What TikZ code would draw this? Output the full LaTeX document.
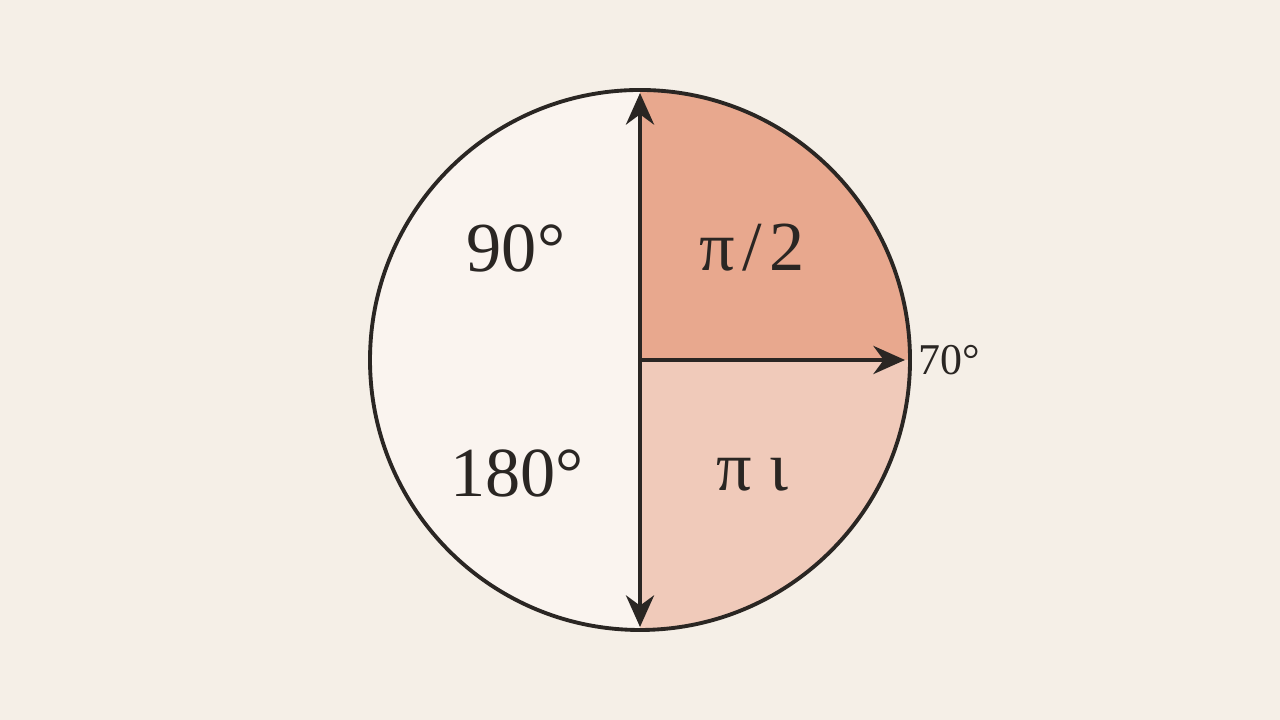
\documentclass[tikz,border=0pt]{standalone}
\usepackage{fontspec}
\setmainfont{Liberation Serif}
\usepackage{tikz}
\usetikzlibrary{calc,positioning,arrows.meta}
\definecolor{bgcol}{HTML}{F5EFE7}
\definecolor{leftcol}{HTML}{FAF4EF}
\definecolor{upcol}{HTML}{E8A88E}
\definecolor{lowcol}{HTML}{F0CABA}
\definecolor{inkcol}{HTML}{2A2623}
\begin{document}
\begin{tikzpicture}[line width=1.1pt,draw=inkcol,
  big/.style={font=\fontsize{20}{24}\selectfont,text=inkcol},
  tip/.style={-{Stealth[length=9pt,width=8pt]}},
  twotip/.style={{Stealth[length=9pt,width=8pt]}-{Stealth[length=9pt,width=8pt]}}]
\fill[bgcol] (0,0) rectangle (12.8,7.2);
\useasboundingbox (0,0) rectangle (12.8,7.2);
\coordinate (O) at (6.4,3.6);
\coordinate (T) at ($(O)+(0,2.7)$);
\coordinate (B) at ($(O)+(0,-2.7)$);
\coordinate (R) at ($(O)+(2.7,0)$);

\fill[leftcol] (T) arc (90:270:2.7) -- cycle;
\fill[upcol] (O) -- (R) arc (0:90:2.7) -- cycle;
\fill[lowcol] (O) -- (B) arc (270:360:2.7) -- cycle;
\draw[inkcol] (O) circle (2.7);

\draw[inkcol,twotip] ($(T)+(0,-0.03)$)--($(B)+(0,0.03)$);
\draw[inkcol,tip] (O)--($(R)+(-0.05,0)$);

\node (A) [big] at (5.16,4.72) {90°};
\node (C) [big] at (5.17,2.47) {180°};
\node (D) [big] at (7.52,4.72) {π\kern2pt/\kern2pt2};
\node (E) [big] at (7.52,2.45) {π ι};
\node (F) [right=1pt of R,font=\fontsize{12.5}{15}\selectfont,text=inkcol,inner xsep=1pt] {70°};
\end{tikzpicture}
\end{document}
